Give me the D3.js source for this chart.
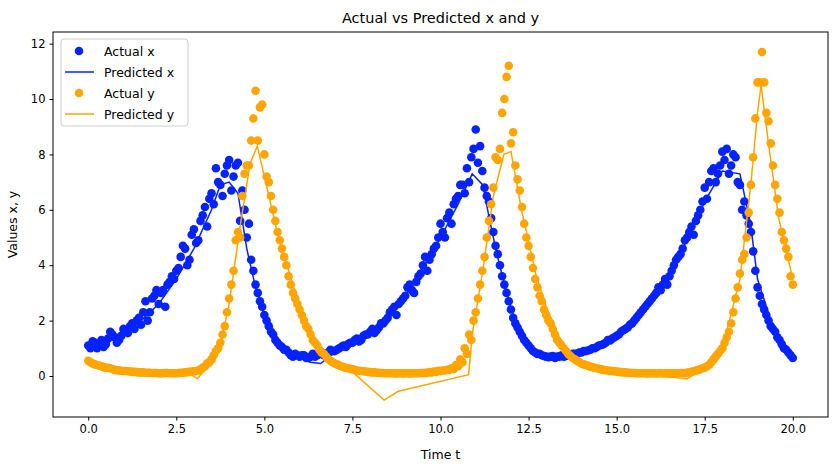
<!DOCTYPE html>
<html>
<head>
<meta charset="utf-8">
<script src="https://cdn.jsdelivr.net/npm/d3@7"></script>
<style>
  body { margin: 0; background: #fff; }
  text { font-family: "DejaVu Sans", sans-serif; fill: #000; }
</style>
</head>
<body>
<svg id="chart" width="833" height="469"></svg>
<script>
// sample times of the measured data (first pass)
var time = [
  0, 0.125, 0.25, 0.375, 0.5, 0.625, 0.75, 0.875,
  1, 1.125, 1.25, 1.375, 1.5, 1.625, 1.75, 1.875,
  2, 2.125, 2.25, 2.375, 2.5, 2.625, 2.75, 2.875,
  3, 3.125, 3.25, 3.375, 3.5, 3.625, 3.75, 3.875,
  4, 4.125, 4.25, 4.375, 4.5, 4.625, 4.75, 4.875,
  5, 5.125, 5.25, 5.375, 5.5, 5.625, 5.75, 5.875,
  6, 6.125, 6.25, 6.375, 6.5, 6.625, 6.75, 6.875,
  7, 7.125, 7.25, 7.375, 7.5, 7.625, 7.75, 7.875,
  8, 8.125, 8.25, 8.375, 8.5, 8.625, 8.75, 8.875,
  9, 9.125, 9.25, 9.375, 9.5, 9.625, 9.75, 9.875,
  10, 10.125, 10.25, 10.375, 10.5, 10.625, 10.75, 10.875,
  11, 11.125, 11.25, 11.375, 11.5, 11.625, 11.75, 11.875,
  12, 12.125, 12.25, 12.375, 12.5, 12.625, 12.75, 12.875,
  13, 13.125, 13.25, 13.375, 13.5, 13.625, 13.75, 13.875,
  14, 14.125, 14.25, 14.375, 14.5, 14.625, 14.75, 14.875,
  15, 15.125, 15.25, 15.375, 15.5, 15.625, 15.75, 15.875,
  16, 16.125, 16.25, 16.375, 16.5, 16.625, 16.75, 16.875,
  17, 17.125, 17.25, 17.375, 17.5, 17.625, 17.75, 17.875,
  18, 18.125, 18.25, 18.375, 18.5, 18.625, 18.75, 18.875,
  19, 19.125, 19.25, 19.375, 19.5, 19.625, 19.75, 19.875,
  20
];
var actualX = [
  1.1, 1.25, 1.0, 1.3, 1.15, 1.6, 1.4, 1.3,
  1.7, 1.55, 1.9, 2.0, 1.85, 2.7, 2.3, 2.9,
  2.6, 3.1, 3.3, 3.6, 3.8, 4.3, 4.6, 4.2,
  5.3, 4.9, 5.8, 5.4, 6.6, 7.5, 6.9, 7.3,
  7.8, 7.2, 7.7, 6.7, 5.0, 4.2, 3.3, 2.7,
  2.2, 1.8, 1.5, 1.2, 1.05, 0.95, 0.75, 0.8,
  0.7, 0.75, 0.65, 0.8, 0.75, 0.85, 0.8, 0.95,
  0.9, 1.0, 1.1, 1.15, 1.2, 1.35, 1.3, 1.5,
  1.6, 1.55, 1.75, 1.9, 2.1, 2.4, 2.2, 2.7,
  2.9, 3.3, 3.0, 3.6, 4.0, 3.8, 4.4, 4.7,
  5.5, 5.0, 5.9, 6.2, 6.5, 6.9, 7.5, 7.9,
  8.9, 8.3, 6.8, 6.3, 5.2, 4.4, 3.6, 3.0,
  2.4, 1.9, 1.6, 1.3, 1.1, 0.9, 0.8, 0.75,
  0.7, 0.7, 0.65, 0.7, 0.7, 0.75, 0.8, 0.8,
  0.85, 0.9, 0.95, 1.0, 1.1, 1.15, 1.3, 1.35,
  1.45, 1.6, 1.7, 1.85, 2.0, 2.2, 2.4, 2.6,
  2.8, 3.0, 3.1, 3.5, 3.6, 4.0, 4.3, 4.6,
  5.0, 5.4, 5.6, 6.0, 6.8, 7.0, 7.5, 7.3,
  8.1, 8.2, 7.6, 7.9, 6.9, 6.3, 5.5, 4.5,
  3.2, 2.6, 2.2, 1.8, 1.6, 1.3, 1.0, 0.85,
  0.65
];
var actualY = [
  0.55, 0.45, 0.4, 0.35, 0.3, 0.28, 0.22, 0.2,
  0.18, 0.17, 0.15, 0.14, 0.13, 0.12, 0.12, 0.11,
  0.1, 0.1, 0.11, 0.1, 0.1, 0.12, 0.13, 0.15,
  0.17, 0.2, 0.3, 0.45, 0.6, 0.9, 1.2, 1.8,
  2.8, 3.8, 5.2, 6.5, 7.6, 8.5, 10.3, 9.7,
  8.0, 7.0, 6.0, 5.2, 4.6, 4.0, 3.3, 2.8,
  2.4, 2.0, 1.7, 1.3, 1.1, 0.85, 0.7, 0.55,
  0.45, 0.38, 0.32, 0.28, 0.24, 0.2, 0.18, 0.16,
  0.14, 0.13, 0.12, 0.11, 0.1, 0.1, 0.09, 0.1,
  0.1, 0.09, 0.1, 0.1, 0.11, 0.12, 0.13, 0.15,
  0.18, 0.2, 0.22, 0.25, 0.35, 0.5, 0.8, 1.3,
  2.3, 3.3, 4.3, 5.6, 6.8, 7.8, 9.5, 10.8,
  8.4, 7.6, 6.7, 5.5, 4.7, 3.9, 3.2, 2.7,
  2.2, 1.9, 1.5, 1.2, 1.0, 0.8, 0.65, 0.55,
  0.45, 0.4, 0.34, 0.3, 0.26, 0.22, 0.2, 0.18,
  0.16, 0.14, 0.13, 0.12, 0.11, 0.1, 0.1, 0.09,
  0.1, 0.09, 0.1, 0.1, 0.09, 0.1, 0.1, 0.11,
  0.12, 0.15, 0.2, 0.25, 0.3, 0.4, 0.6, 0.8,
  1.0, 1.4, 1.9, 2.8, 3.7, 4.4, 5.9, 7.9,
  10.6, 11.7, 9.5, 8.4, 6.9, 5.9, 4.9, 4.3,
  3.3
];
// second pass of measurements, in between the first
var time2 = [
  0.0625, 0.1875, 0.3125, 0.4375, 0.5625, 0.6875, 0.8125, 0.9375,
  1.0625, 1.1875, 1.3125, 1.4375, 1.5625, 1.6875, 1.8125, 1.9375,
  2.0625, 2.1875, 2.3125, 2.4375, 2.5625, 2.6875, 2.8125, 2.9375,
  3.0625, 3.1875, 3.3125, 3.4375, 3.5625, 3.6875, 3.8125, 3.9375,
  4.0625, 4.1875, 4.3125, 4.4375, 4.5625, 4.6875, 4.8125, 4.9375,
  5.0625, 5.1875, 5.3125, 5.4375, 5.5625, 5.6875, 5.8125, 5.9375,
  6.0625, 6.1875, 6.3125, 6.4375, 6.5625, 6.6875, 6.8125, 6.9375,
  7.0625, 7.1875, 7.3125, 7.4375, 7.5625, 7.6875, 7.8125, 7.9375,
  8.0625, 8.1875, 8.3125, 8.4375, 8.5625, 8.6875, 8.8125, 8.9375,
  9.0625, 9.1875, 9.3125, 9.4375, 9.5625, 9.6875, 9.8125, 9.9375,
  10.0625, 10.1875, 10.3125, 10.4375, 10.5625, 10.6875, 10.8125, 10.9375,
  11.0625, 11.1875, 11.3125, 11.4375, 11.5625, 11.6875, 11.8125, 11.9375,
  12.0625, 12.1875, 12.3125, 12.4375, 12.5625, 12.6875, 12.8125, 12.9375,
  13.0625, 13.1875, 13.3125, 13.4375, 13.5625, 13.6875, 13.8125, 13.9375,
  14.0625, 14.1875, 14.3125, 14.4375, 14.5625, 14.6875, 14.8125, 14.9375,
  15.0625, 15.1875, 15.3125, 15.4375, 15.5625, 15.6875, 15.8125, 15.9375,
  16.0625, 16.1875, 16.3125, 16.4375, 16.5625, 16.6875, 16.8125, 16.9375,
  17.0625, 17.1875, 17.3125, 17.4375, 17.5625, 17.6875, 17.8125, 17.9375,
  18.0625, 18.1875, 18.3125, 18.4375, 18.5625, 18.6875, 18.8125, 18.9375,
  19.0625, 19.1875, 19.3125, 19.4375, 19.5625, 19.6875, 19.8125, 19.9375
];
var actualX2 = [
  1.0, 1.2, 1.15, 1.05, 1.35, 1.5, 1.2, 1.45,
  1.6, 1.8, 1.7, 2.1, 2.3, 2.0, 2.8, 3.1,
  3.0, 2.5, 3.4, 3.5, 3.9, 4.7, 4.0, 5.1,
  4.8, 5.6, 6.1, 6.4, 6.2, 7.0, 6.5, 7.6,
  6.7, 7.6, 5.6, 6.0, 5.5, 3.8, 3.0, 2.5,
  2.0, 1.6, 1.3, 1.1, 0.95, 0.85, 0.7, 0.75,
  0.75, 0.65, 0.7, 0.7, 0.8, 0.75, 0.85, 0.9,
  0.95, 1.05, 1.05, 1.2, 1.3, 1.25, 1.45, 1.5,
  1.7, 1.65, 1.9, 2.0, 2.3, 2.5, 2.6, 2.8,
  3.2, 3.1, 3.4, 3.7, 4.3, 4.2, 4.6, 5.0,
  5.2, 5.7, 5.5, 6.4, 6.9, 6.6, 7.0, 8.2,
  7.7, 7.4, 6.5, 5.7, 4.7, 4.0, 3.3, 2.7,
  2.1, 1.75, 1.45, 1.2, 1.0, 0.85, 0.8, 0.72,
  0.68, 0.72, 0.7, 0.75, 0.72, 0.78, 0.8, 0.85,
  0.9, 0.92, 1.0, 1.05, 1.12, 1.2, 1.28, 1.4,
  1.5, 1.65, 1.75, 1.9, 2.1, 2.3, 2.5, 2.7,
  2.9, 3.2, 3.3, 3.3, 3.8, 4.2, 4.4, 4.9,
  5.2, 5.1, 5.8, 6.3, 6.4, 7.4, 7.0, 7.6,
  7.8, 7.3, 8.0, 7.0, 6.0, 5.8, 5.2, 3.8,
  2.9, 2.4, 2.0, 1.7, 1.4, 1.15, 0.95, 0.75
];
var actualY2 = [
  0.5, 0.42, 0.38, 0.32, 0.3, 0.25, 0.21, 0.19,
  0.18, 0.16, 0.15, 0.13, 0.13, 0.12, 0.11, 0.11,
  0.1, 0.11, 0.1, 0.1, 0.11, 0.12, 0.14, 0.16,
  0.18, 0.25, 0.35, 0.5, 0.75, 1.0, 1.5, 2.3,
  3.3, 4.9, 5.0, 7.3, 7.6, 9.3, 8.5, 9.8,
  7.2, 6.5, 5.6, 4.9, 4.3, 3.6, 3.0, 2.6,
  2.2, 1.8, 1.5, 1.2, 0.95, 0.8, 0.62, 0.5,
  0.42, 0.35, 0.3, 0.26, 0.22, 0.19, 0.17, 0.15,
  0.13, 0.12, 0.11, 0.1, 0.1, 0.1, 0.1, 0.09,
  0.1, 0.1, 0.1, 0.11, 0.12, 0.14, 0.16, 0.19,
  0.2, 0.22, 0.28, 0.4, 0.6, 1.0, 1.5, 2.0,
  2.8, 3.8, 5.0, 6.2, 7.9, 8.2, 10.0, 11.2,
  8.8, 7.1, 6.1, 5.0, 4.3, 3.5, 2.9, 2.4,
  2.0, 1.7, 1.3, 1.1, 0.9, 0.72, 0.6, 0.5,
  0.42, 0.37, 0.32, 0.28, 0.24, 0.21, 0.19, 0.17,
  0.15, 0.13, 0.12, 0.11, 0.1, 0.1, 0.1, 0.1,
  0.1, 0.1, 0.09, 0.1, 0.1, 0.1, 0.11, 0.11,
  0.13, 0.17, 0.22, 0.28, 0.35, 0.5, 0.7, 0.9,
  1.2, 1.6, 2.3, 3.2, 4.2, 5.0, 6.9, 9.3,
  10.6, 10.6, 9.2, 7.6, 6.4, 5.2, 4.6, 3.6
];
// model prediction (sparser)
var predXTime = [0, 0.5, 1, 1.5, 2, 2.5, 3, 3.5, 3.75, 4, 4.25, 4.5, 4.75, 5, 5.5, 6, 6.3, 6.6, 7, 7.5, 8, 8.5, 9, 9.5, 10, 10.5, 10.9, 11.2, 11.4, 11.6, 12, 12.5, 13, 13.5, 14, 14.5, 15, 15.5, 16, 16.5, 17, 17.5, 18, 18.5, 18.8, 19, 19.5, 20];
var predX = [0.9, 1.3, 1.6, 2.0, 2.6, 3.5, 4.6, 6.0, 6.9, 7.0, 6.6, 4.6, 3.2, 2.2, 1.1, 0.7, 0.5, 0.45, 0.85, 1.2, 1.6, 2.2, 2.9, 3.9, 5.0, 6.2, 7.3, 6.9, 5.6, 4.4, 2.4, 1.1, 0.7, 0.7, 0.85, 1.1, 1.5, 2.0, 2.8, 3.7, 4.9, 6.3, 7.4, 7.3, 5.5, 3.5, 1.5, 0.65];
var predYTime = [0, 0.5, 1, 2, 2.8, 3.1, 3.4, 3.75, 4, 4.3, 4.6, 4.8, 5, 5.4, 6, 6.5, 7, 7.5, 8.4, 8.8, 10.8, 10.9, 11.2, 11.5, 11.8, 12, 12.3, 12.7, 13, 13.5, 14, 15, 17, 17.5, 18, 18.5, 18.8, 19, 19.1, 19.3, 19.6, 20];
var predY = [0.45, 0.3, 0.2, 0.15, 0.15, -0.1, 0.35, 1.1, 2.6, 5.3, 7.7, 8.3, 7.2, 5.0, 2.5, 1.0, 0.4, 0.15, -0.87, -0.55, 0.05, 1.5, 3.8, 6.5, 8.0, 8.1, 6.0, 3.7, 2.5, 1.0, 0.45, 0.15, -0.1, 0.3, 1.0, 3.5, 6.8, 9.5, 10.5, 8.5, 5.7, 3.5];
var xTicks = [0, 2.5, 5, 7.5, 10, 12.5, 15, 17.5, 20];
var yTicks = [0, 2, 4, 6, 8, 10, 12];

var blue = "#0522ff", orange = "#ffa500";
var margin = {left: 53, right: 5, top: 32, bottom: 52};
var W = 833, H = 469;
var svg = d3.select("#chart");

var x = d3.scaleLinear().domain([-1, 21]).range([margin.left, W - margin.right]);
var y = d3.scaleLinear().domain([-1.48, 12.42]).range([H - margin.bottom, margin.top]);

var plot = svg.append("g");
function pts(ts, vs) { return ts.map(function (t, i) { return [t, vs[i]]; }); }
var line = d3.line().x(function (d) { return x(d[0]); }).y(function (d) { return y(d[1]); });

function dots(data, col) {
  plot.append("g").selectAll("circle").data(data).enter().append("circle")
    .attr("cx", function (d) { return x(d[0]); })
    .attr("cy", function (d) { return y(d[1]); })
    .attr("r", 4.3).attr("fill", col);
}
function path(data, col) {
  plot.append("path").datum(data).attr("d", line)
    .attr("fill", "none").attr("stroke", col).attr("stroke-width", 1.5);
}
dots(pts(time, actualX).concat(pts(time2, actualX2)), blue);
path(pts(predXTime, predX), blue);
dots(pts(time, actualY).concat(pts(time2, actualY2)), orange);
path(pts(predYTime, predY), orange);

// axes
var gx = svg.append("g").attr("transform", "translate(0," + (H - margin.bottom) + ")")
  .call(d3.axisBottom(x).tickValues(xTicks).tickFormat(d3.format(".1f")).tickSize(3.5).tickPadding(4));
var gy = svg.append("g").attr("transform", "translate(" + margin.left + ",0)")
  .call(d3.axisLeft(y).tickValues(yTicks).tickFormat(d3.format("d")).tickSize(3.5).tickPadding(4));
[gx, gy].forEach(function (g) {
  g.select(".domain").remove();
  g.selectAll("text").style("font-size", "11.5px").style("font-family", "DejaVu Sans");
});
svg.append("rect").attr("x", margin.left).attr("y", margin.top)
  .attr("width", W - margin.left - margin.right).attr("height", H - margin.top - margin.bottom)
  .attr("fill", "none").attr("stroke", "#000").attr("stroke-width", 1);

svg.append("text").attr("x", (margin.left + W - margin.right) / 2).attr("y", 23)
  .attr("text-anchor", "middle").style("font-size", "14.5px").text("Actual vs Predicted x and y");
svg.append("text").attr("x", (margin.left + W - margin.right) / 2).attr("y", 459)
  .attr("text-anchor", "middle").style("font-size", "12.5px").text("Time t");
svg.append("text").attr("transform", "translate(17," + ((margin.top + H - margin.bottom) / 2) + ") rotate(-90)")
  .attr("text-anchor", "middle").style("font-size", "12.5px").text("Values x, y");

// legend
var legend = [
  {name: "Actual x", col: blue, type: "dot"},
  {name: "Predicted x", col: blue, type: "line"},
  {name: "Actual y", col: orange, type: "dot"},
  {name: "Predicted y", col: orange, type: "line"}
];
var lg = svg.append("g");
lg.append("rect").attr("x", 61).attr("y", 39).attr("width", 127).attr("height", 87)
  .attr("rx", 3).attr("fill", "#fff").attr("fill-opacity", 0.8).attr("stroke", "#ccc");
legend.forEach(function (d, i) {
  var cy = 51 + i * 21;
  if (d.type === "dot") {
    lg.append("circle").attr("cx", 79).attr("cy", cy).attr("r", 4.3).attr("fill", d.col);
  } else {
    lg.append("line").attr("x1", 65).attr("x2", 94).attr("y1", cy).attr("y2", cy)
      .attr("stroke", d.col).attr("stroke-width", 1.5);
  }
  lg.append("text").attr("x", 104).attr("y", cy + 4.5).style("font-size", "12.5px").text(d.name);
});
</script>
</body>
</html>
